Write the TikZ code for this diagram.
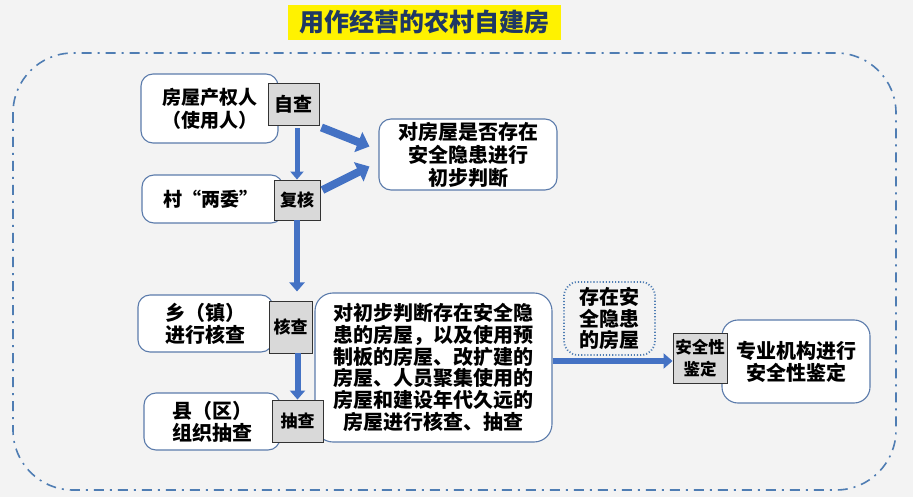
\documentclass[tikz,border=0pt]{standalone}
\usepackage{fontspec}
\setmainfont{Noto Sans CJK SC}
\usetikzlibrary{arrows.meta,calc}
\definecolor{bgc}{HTML}{F3F3F3}
\definecolor{bordc}{HTML}{5B7BAB}
\definecolor{dashc}{HTML}{4F7DB3}
\definecolor{arrc}{HTML}{4472C4}
\definecolor{grayc}{HTML}{D9D9D9}
\definecolor{ttlc}{HTML}{1F3864}
\begin{document}
\begin{tikzpicture}[x=1pt,y=-1pt,
  rbox/.style={draw=bordc, fill=white, line width=1.1pt, rounded corners=12pt, inner sep=0pt, align=center, font=\fontsize{19}{23}\selectfont\bfseries},
  gbox/.style={draw=black!80, fill=grayc, line width=0.9pt, inner sep=0pt, align=center, font=\fontsize{17}{21}\selectfont\bfseries},
  fatarrow/.style={draw=arrc, line width=8pt, -{Triangle[length=12pt,width=21pt]}},
  varrow/.style={draw=arrc, line width=6pt, -{Triangle[length=9pt,width=15pt]}},
  thinarrow/.style={draw=arrc, line width=5pt, -{Triangle[length=8pt,width=13pt]}},
  frame/.style={draw=dashc, line width=1.6pt, dash pattern=on 10pt off 6pt on 2pt off 6pt, rounded corners=60pt}
]
\fill[bgc] (0,0) rectangle (913,497);
\useasboundingbox (0,0) rectangle (913,497);

% title
\node[fill=yellow, minimum width=273pt, minimum height=35pt, inner sep=0pt, text=ttlc, font=\fontsize{25}{25}\selectfont\bfseries] (title) at (424.5,22.5) {用作经营的农村自建房};

% outer frame
\draw[frame] (13,53) rectangle (896,490);

% rounded boxes
\node[rbox, minimum width=137pt, minimum height=69pt] (owner) at (209.5,108.5) {房屋产权人\\（使用人）};
\node[rbox, minimum width=141pt, minimum height=48pt] (cun) at (212.5,199) {村“两委”\hspace{3pt}};
\node[rbox, minimum width=178pt, minimum height=71pt, font=\fontsize{20}{23}\selectfont\bfseries] (judge) at (468,154.5) {对房屋是否存在\\安全隐患进行\\初步判断};
\node[rbox, minimum width=135pt, minimum height=57pt, font=\fontsize{20}{22}\selectfont\bfseries] (xiang) at (205.5,323.5) {乡（镇）\\进行核查};
\node[rbox, minimum width=136pt, minimum height=57pt, font=\fontsize{20}{22}\selectfont\bfseries] (xian) at (212,421.5) {县（区）\\组织抽查};
\node[rbox, minimum width=237pt, minimum height=149pt, rounded corners=18pt, font=\fontsize{20}{21.7}\selectfont\bfseries] (big) at (433.5,367.5) {对初步判断存在安全隐\\患的房屋，以及使用预\\制板的房屋、改扩建的\\房屋、人员聚集使用的\\房屋和建设年代久远的\\房屋进行核查、抽查};
\node[rbox, fill=none, draw=dashc, dotted, line width=1.8pt, rounded corners=14pt, minimum width=91pt, minimum height=73pt, font=\fontsize{20}{21.5}\selectfont\bfseries] (exist) at (609.5,318.5) {存在安\\全隐患\\的房屋};
\node[rbox, minimum width=148pt, minimum height=83pt, rounded corners=16pt, font=\fontsize{20}{22}\selectfont\bfseries] (pro) at (796,361.5) {专业机构进行\\安全性鉴定};

% gray boxes
\node[gbox, minimum width=51pt, minimum height=42pt, font=\fontsize{19}{21}\selectfont\bfseries] (zicha) at (293.5,104) {自查};
\node[gbox, minimum width=46pt, minimum height=40pt] (fuhe) at (297,200) {复核};
\node[gbox, minimum width=43pt, minimum height=52pt] (hecha) at (290.5,327) {核查};
\node[gbox, minimum width=51pt, minimum height=42pt] (choucha) at (297.5,421) {抽查};
\node[gbox, minimum width=54pt, minimum height=50pt, font=\fontsize{16.5}{22}\selectfont\bfseries] (aqjd) at (700,358) {安全性\\鉴定};

% arrows
\draw[thinarrow, shorten <=3pt] (zicha.south -| fuhe.north) -- (fuhe.north);
\draw[varrow, shorten >=3pt] (fuhe.south) -- (fuhe.south |- xiang.north);
\draw[varrow] (hecha.south -| choucha.north) -- (choucha.north);
\draw[fatarrow] ($(zicha.south east)+(2,2)$) -- ($(judge.west)+(-9,-8)$);
\draw[fatarrow] ($(fuhe.east)+(2,-10)$) -- ($(judge.west)+(-9,12)$);
\coordinate (hin) at ($(aqjd.west)+(0,3)$);
\draw[varrow] (big.east |- hin) -- (hin);
\end{tikzpicture}
\end{document}
